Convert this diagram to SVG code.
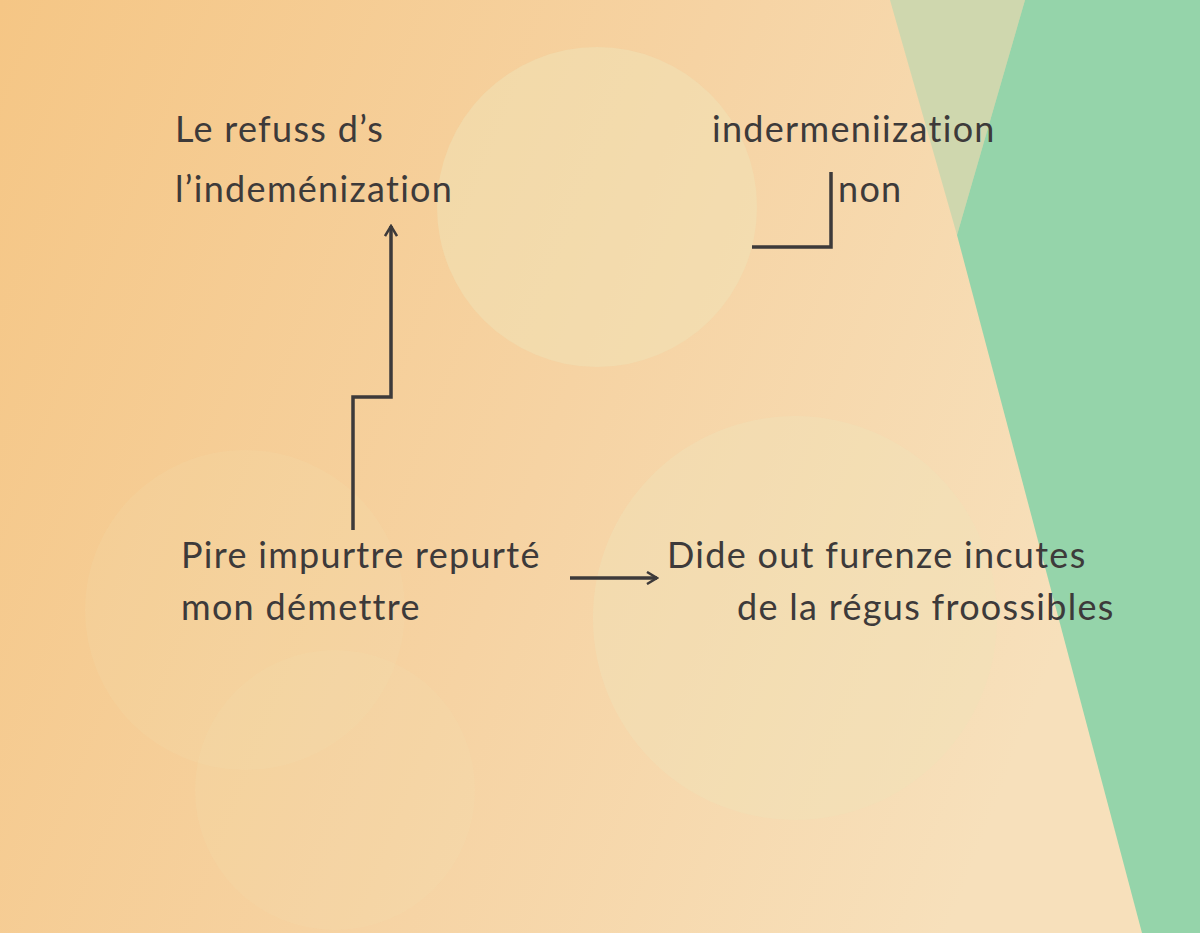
<svg xmlns="http://www.w3.org/2000/svg" width="1200" height="933" viewBox="0 0 1200 933">
<defs>
<linearGradient id="bg" x1="0" y1="0" x2="1" y2="0.3">
<stop offset="0" stop-color="#f5c685"/><stop offset="0.55" stop-color="#f6d3a3"/><stop offset="1" stop-color="#f7e0bb"/>
</linearGradient>
<marker id="ah" viewBox="0 0 14 14" refX="12" refY="7" markerWidth="14" markerHeight="14" markerUnits="userSpaceOnUse" orient="auto">
<path d="M2,1 L12,7 L2,13" fill="none" stroke="#3d3a3a" stroke-width="2.5"/>
</marker>
<style>
.t{font-family:Lato,"Open Sans",sans-serif;font-size:36px;letter-spacing:1.3px;fill:#3d3a3a}
.c{fill:none;stroke:#3d3a3a;stroke-width:3.5}
.b{fill:#efe3b8;opacity:0.3}
</style>
</defs>
<rect width="1200" height="933" fill="url(#bg)"/>
<circle class="b" cx="597" cy="207" r="160" style="opacity:0.5"/>
<circle class="b" cx="795" cy="618" r="202" style="opacity:0.45"/>
<circle class="b" cx="245" cy="610" r="160" style="opacity:0.15"/>
<circle class="b" cx="335" cy="790" r="140" style="opacity:0.15"/>
<polygon points="890,0 1025,0 957,235" fill="#cfd7ae"/>
<polygon points="1025,0 1200,0 1200,933 1142,933 957,235" fill="#95d4aa"/>
<g id="n1"><text class="t" x="175" y="142">Le refuss d’s</text><text class="t" x="175" y="202">l’indeménization</text></g>
<g id="n2"><text class="t" x="712" y="142">indermeniization</text></g>
<g id="n3"><text class="t" x="838" y="202">non</text></g>
<g id="n4"><text class="t" x="181" y="568">Pire impurtre repurté</text><text class="t" x="181" y="620">mon démettre</text></g>
<g id="n5"><text class="t" x="667" y="568">Dide out furenze incutes</text><text class="t" x="737" y="620">de la régus froossibles</text></g>
<g id="connectors">
<polyline class="c" points="353,530 353,397 391,397 391,226" marker-end="url(#ah)"/>
<polyline class="c" points="752,247 831,247 831,172"/>
<line class="c" x1="570" y1="578" x2="657" y2="578" marker-end="url(#ah)"/>
</g>
</svg>
